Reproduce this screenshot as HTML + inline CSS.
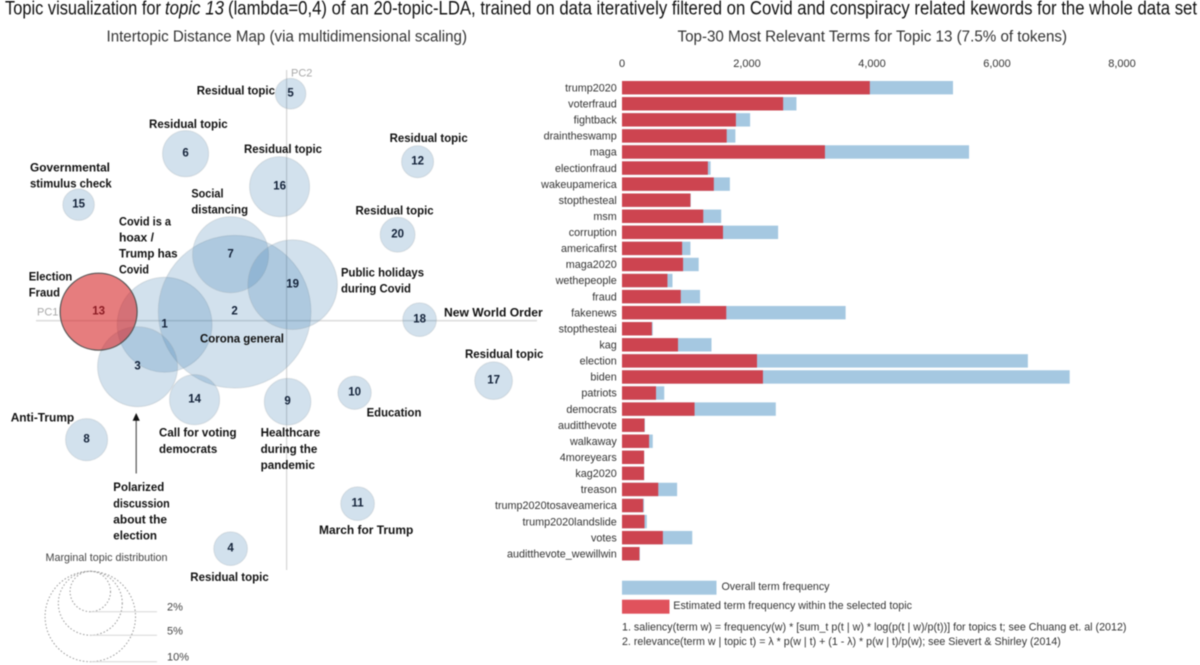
<!DOCTYPE html>
<html lang="en">
<head>
<meta charset="utf-8">
<title>Topic visualization for topic 13</title>
<style>
html,body{margin:0;padding:0;background:#fff;width:1200px;height:665px;overflow:hidden}
svg{display:block;filter:blur(0.45px)}
text{font-family:"Liberation Sans",sans-serif}
.lab{font-size:12px;font-weight:bold;fill:#111;dominant-baseline:central}
.term{font-size:10.8px;fill:#333;text-anchor:end;dominant-baseline:central}
.tick{font-size:11px;fill:#333;text-anchor:middle;dominant-baseline:central}
.ttl{font-size:15.5px;fill:#333;dominant-baseline:central}
.note{font-size:11px;fill:#333;dominant-baseline:central}
.num{font-size:11.5px;font-weight:bold;fill:#14233a;text-anchor:middle;dominant-baseline:central}
.head{font-size:19px;fill:#111;dominant-baseline:central}
</style>
</head>
<body>
<svg id="root" xmlns="http://www.w3.org/2000/svg" width="1200" height="665" viewBox="0 0 1200 665">
  <g>
    <text class="head" x="5" y="9" textLength="156" lengthAdjust="spacingAndGlyphs">Topic visualization for</text>
    <text class="head" x="165" y="9" font-style="italic" textLength="59" lengthAdjust="spacingAndGlyphs">topic 13</text>
    <text class="head" x="228" y="9" textLength="969" lengthAdjust="spacingAndGlyphs">(lambda=0,4) of an 20-topic-LDA, trained on data iteratively filtered on Covid and conspiracy related kewords for the whole data set</text>
  </g>
  <text class="ttl" x="106.5" y="37" textLength="360.5" lengthAdjust="spacingAndGlyphs">Intertopic Distance Map (via multidimensional scaling)</text>
  <text class="ttl" x="677.5" y="37" textLength="389.5" lengthAdjust="spacingAndGlyphs">Top-30 Most Relevant Terms for Topic 13 (7.5% of tokens)</text>

  <g id="map-axes">
    <line x1="36" x2="537" y1="320.7" y2="320.7" stroke="#dedede" stroke-width="1.6"></line>
    <line x1="286.6" x2="286.6" y1="70" y2="570" stroke="#d4d4d4" stroke-width="1.2"></line>
    <text x="37" y="312.5" font-size="11" fill="#a8a8a8" dominant-baseline="central">PC1</text>
    <text x="291" y="73.5" font-size="11" fill="#a8a8a8" dominant-baseline="central">PC2</text>
  </g>
  <g id="bubbles"></g>

  <g>
    <text class="lab" x="196.7" y="90.7" textLength="78.3" lengthAdjust="spacingAndGlyphs">Residual topic</text>
    <text class="lab" x="149" y="124" textLength="78.7" lengthAdjust="spacingAndGlyphs">Residual topic</text>
    <text class="lab" x="244" y="149" textLength="78" lengthAdjust="spacingAndGlyphs">Residual topic</text>
    <text class="lab" x="389.6" y="138" textLength="78.1" lengthAdjust="spacingAndGlyphs">Residual topic</text>
    <text class="lab" x="30" y="167.7" textLength="80" lengthAdjust="spacingAndGlyphs">Governmental</text>
    <text class="lab" x="30" y="183.7" textLength="81.7" lengthAdjust="spacingAndGlyphs">stimulus check</text>
    <text class="lab" x="191.4" y="193.3" textLength="32.1" lengthAdjust="spacingAndGlyphs">Social</text>
    <text class="lab" x="191.4" y="209.3" textLength="56.6" lengthAdjust="spacingAndGlyphs">distancing</text>
    <text class="lab" x="355.5" y="210.7" textLength="78.1" lengthAdjust="spacingAndGlyphs">Residual topic</text>
    <text class="lab" x="119" y="221.3" textLength="52" lengthAdjust="spacingAndGlyphs">Covid is a</text>
    <text class="lab" x="119" y="237.7" textLength="35" lengthAdjust="spacingAndGlyphs">hoax /</text>
    <text class="lab" x="119" y="253.7" textLength="58.6" lengthAdjust="spacingAndGlyphs">Trump has</text>
    <text class="lab" x="119" y="269.7" textLength="30" lengthAdjust="spacingAndGlyphs">Covid</text>
    <text class="lab" x="28.7" y="276.7" textLength="43.6" lengthAdjust="spacingAndGlyphs">Election</text>
    <text class="lab" x="28.7" y="292.3" textLength="31.3" lengthAdjust="spacingAndGlyphs">Fraud</text>
    <text class="lab" x="341" y="272.3" textLength="83" lengthAdjust="spacingAndGlyphs">Public holidays</text>
    <text class="lab" x="341" y="288.3" textLength="70" lengthAdjust="spacingAndGlyphs">during Covid</text>
    <text class="lab" x="444" y="312.7" textLength="98.7" lengthAdjust="spacingAndGlyphs">New World Order</text>
    <text class="lab" x="200" y="338.7" textLength="84" lengthAdjust="spacingAndGlyphs">Corona general</text>
    <text class="lab" x="465" y="354" textLength="78.4" lengthAdjust="spacingAndGlyphs">Residual topic</text>
    <text class="lab" x="366.6" y="412.3" textLength="54.8" lengthAdjust="spacingAndGlyphs">Education</text>
    <text class="lab" x="10.7" y="417.3" textLength="63.5" lengthAdjust="spacingAndGlyphs">Anti-Trump</text>
    <text class="lab" x="159" y="432.3" textLength="77.5" lengthAdjust="spacingAndGlyphs">Call for voting</text>
    <text class="lab" x="159" y="449" textLength="58.3" lengthAdjust="spacingAndGlyphs">democrats</text>
    <text class="lab" x="260.6" y="432.3" textLength="59.7" lengthAdjust="spacingAndGlyphs">Healthcare</text>
    <text class="lab" x="260.6" y="449" textLength="56.7" lengthAdjust="spacingAndGlyphs">during the</text>
    <text class="lab" x="260.6" y="465" textLength="54.4" lengthAdjust="spacingAndGlyphs">pandemic</text>
    <text class="lab" x="113.3" y="487" textLength="51" lengthAdjust="spacingAndGlyphs">Polarized</text>
    <text class="lab" x="113.3" y="503.3" textLength="56.4" lengthAdjust="spacingAndGlyphs">discussion</text>
    <text class="lab" x="113.3" y="519.3" textLength="53.7" lengthAdjust="spacingAndGlyphs">about the</text>
    <text class="lab" x="113.3" y="535.3" textLength="43.7" lengthAdjust="spacingAndGlyphs">election</text>
    <text class="lab" x="319" y="530" textLength="94.3" lengthAdjust="spacingAndGlyphs">March for Trump</text>
    <text class="lab" x="190.3" y="577" textLength="78.4" lengthAdjust="spacingAndGlyphs">Residual topic</text>
    <line x1="136.2" x2="136.2" y1="420" y2="473.5" stroke="#555" stroke-width="1.2"></line>
    <polygon points="136.2,413 132.6,420.7 139.8,420.7" fill="#111"></polygon>
  </g>

  <text x="45.5" y="558" font-size="10.8" fill="#444" dominant-baseline="central" textLength="122" lengthAdjust="spacingAndGlyphs">Marginal topic distribution</text>
  <g id="size-legend"></g>

  <g id="bar-axis"></g>
  <g id="term-bars"></g>

  <g>
    <rect x="622" y="580.7" width="94.5" height="14" fill="#a5c8e1"></rect>
    <text class="note" x="721.5" y="587" textLength="108" lengthAdjust="spacingAndGlyphs">Overall term frequency</text>
    <rect x="622" y="599.7" width="47.5" height="14" fill="#e0525c"></rect>
    <text class="note" x="673.3" y="606" textLength="238.7" lengthAdjust="spacingAndGlyphs">Estimated term frequency within the selected topic</text>
  </g>
  <text class="note" x="622" y="627.3" textLength="504.5" lengthAdjust="spacingAndGlyphs">1. saliency(term w) = frequency(w) * [sum_t p(t | w) * log(p(t | w)/p(t))] for topics t; see Chuang et. al (2012)</text>
  <text class="note" x="622" y="642" textLength="438.8" lengthAdjust="spacingAndGlyphs">2. relevance(term w | topic t) = λ * p(w | t) + (1 - λ) * p(w | t)/p(w); see Sievert &amp; Shirley (2014)</text>
</svg>

<script>
var topicIds = [1,2,3,4,5,6,7,8,9,10,11,12,13,14,15,16,17,18,19,20];
var topicPc1 = [-0.122,-0.052,-0.149,-0.056,0.004,-0.101,-0.056,-0.200,0.001,0.068,0.071,0.131,-0.188,-0.092,-0.208,-0.007,0.207,0.133,0.006,0.111];
var topicPc2 = [-0.004,0.009,-0.046,-0.228,0.227,0.167,0.066,-0.119,-0.081,-0.072,-0.183,0.159,0.009,-0.079,0.116,0.134,-0.060,0.001,0.036,0.086];
var topicShare = [10.99,28.5,7.82,1.38,1.14,2.59,7.06,2.16,2.65,1.35,1.38,1.25,7.25,3.06,1.21,4.40,1.73,1.38,9.81,1.48];
var selectedTopic = 13;
var legendShares = [2,5,10];
var legendLabels = ['2%','5%','10%'];

var terms = ['trump2020','voterfraud','fightback','draintheswamp','maga','electionfraud','wakeupamerica','stopthesteal','msm','corruption','americafirst','maga2020','wethepeople','fraud','fakenews','stopthesteai','kag','election','biden','patriots','democrats','auditthevote','walkaway','4moreyears','kag2020','treason','trump2020tosaveamerica','trump2020landslide','votes','auditthevote_wewillwin'];
var overallFreq = [5296,2791,2050,1814,5553,1418,1726,1100,1587,2498,1095,1227,808,1249,3578,492,1432,6494,7163,676,2461,367,492,356,356,882,353,397,1124,286];
var topicFreq = [3965,2578,1822,1675,3247,1374,1469,1095,1300,1616,962,977,727,940,1668,478,896,2160,2255,544,1161,360,433,353,353,580,338,360,654,279];
var tickValues = [0,2000,4000,6000,8000];
var tickLabels = ['0','2,000','4,000','6,000','8,000'];

var NS = 'http://www.w3.org/2000/svg';
function mk(parent, tag, attrs, txt){
  var el = document.createElementNS(NS, tag);
  for (var k in attrs) el.setAttribute(k, attrs[k]);
  if (txt !== undefined) el.textContent = txt;
  parent.appendChild(el);
  return el;
}
function xPc(v){ return 286.6 + v * 1000; }
function yPc(v){ return 320.7 - v * 1000; }
function rShare(p){ return 14.3 * Math.sqrt(p); }
function xFreq(v){ return 622 + v * 0.0625; }
function yRow(i){ return 81 + i * 16.07; }

var gB = document.getElementById('bubbles');
topicIds.forEach(function(id, i){
  var sel = id === selectedTopic;
  var c = mk(gB, 'circle', {
    cx: xPc(topicPc1[i]), cy: yPc(topicPc2[i]), r: rShare(topicShare[i]),
    fill: sel ? '#d62728' : '#1f6aa5', 'fill-opacity': sel ? 0.6 : 0.2,
    stroke: sel ? '#555' : '#9aa5ad', 'stroke-opacity': sel ? 1 : 0.3, 'stroke-width': sel ? 1.2 : 1
  });
  
  
});
topicIds.forEach(function(id, i){
  var sel = id === selectedTopic;
  var t = mk(gB, 'text', { 'class': 'num', x: xPc(topicPc1[i]), y: yPc(topicPc2[i]) }, String(id));
  if (sel) t.style.fill = '#8c1c24';
  
  
});

var gL = document.getElementById('size-legend');
legendShares.forEach(function(p, i){
  var r = rShare(p);
  var c = mk(gL, 'circle', { cx: 90.3, cy: 571.3 + r, r: r, fill: 'none', stroke: '#999', 'stroke-dasharray': '1.5 2', 'stroke-width': 1 });
  
  
  var l = mk(gL, 'line', { x1: 90.3, x2: 157, y1: 571.3 + 2 * r, y2: 571.3 + 2 * r, stroke: '#d8d8d8', 'stroke-width': 1 });
  
  
  var t = mk(gL, 'text', { x: 167, y: 571.3 + 2 * r - 4, 'font-size': 11, fill: '#444', 'dominant-baseline': 'central' }, legendLabels[i]);
  
  
});

var gA = document.getElementById('bar-axis');
tickValues.forEach(function(v, i){
  var t = mk(gA, 'text', { 'class': 'tick', x: xFreq(v), y: 64 }, tickLabels[i]);
  
  
});

var gT = document.getElementById('term-bars');
terms.forEach(function(term, i){
  var y = yRow(i);
  var lab = mk(gT, 'text', { 'class': 'term', x: 616.8, y: y + 7.4 }, term);
  
  
  var b = mk(gT, 'rect', { x: xFreq(0), y: y, width: xFreq(overallFreq[i]) - xFreq(0), height: 13.4, fill: '#a5c8e1' });
  
  
  var r = mk(gT, 'rect', { x: xFreq(0), y: y, width: xFreq(topicFreq[i]) - xFreq(0), height: 13.4, fill: '#cd4450' });
  
  
});
</script>
</body>
</html>
